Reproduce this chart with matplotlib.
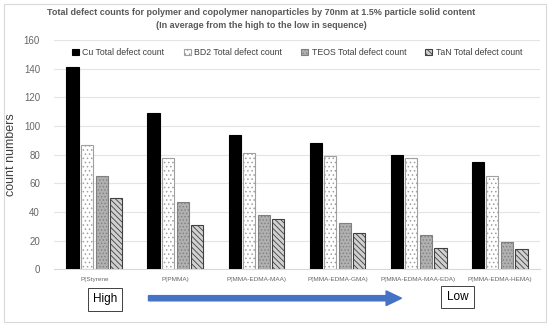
import matplotlib.pyplot as plt
import numpy as np
from matplotlib.patches import FancyArrow

# Data
categories = ['P(Styrene', 'P(PMMA)', 'P(MMA-EDMA-MAA)', 'P(MMA-EDMA-GMA)',
              'P(MMA-EDMA-MAA-EDA)', 'P(MMA-EDMA-HEMA)']
cu = [141, 109, 94, 88, 80, 75]
bd2 = [87, 78, 81, 79, 78, 65]
teos = [65, 47, 38, 32, 24, 19]
tan = [50, 31, 35, 25, 15, 14]
series_names = ['Cu Total defect count', 'BD2 Total defect count',
                'TEOS Total defect count', 'TaN Total defect count']

plt.rcParams['font.family'] = ['Liberation Sans', 'DejaVu Sans']
plt.rcParams['hatch.linewidth'] = 0.6

fig = plt.figure(figsize=(5.5, 3.27), dpi=100)
ax = fig.add_axes([0.098, 0.177, 0.884, 0.7])

x = np.arange(len(categories))
w = 0.15
step = 0.18
styles = [
    dict(color='black', edgecolor='black'),
    dict(color='white', edgecolor='#a0a0a0', hatch='....'),
    dict(color='#b0b0b0', edgecolor='#808080', hatch='.....'),
    dict(color='#d0d0d0', edgecolor='#404040', hatch='\\\\\\\\\\\\'),
]
for i, (vals, name, st) in enumerate(zip([cu, bd2, teos, tan], series_names, styles)):
    ax.bar(x + (i - 1.5) * step, vals, w, label=name, linewidth=0.8, zorder=3, **st)

ax.set_xlim(-0.5, 5.5)
ax.set_ylim(0, 160)
ax.set_yticks(range(0, 161, 20))
ax.grid(axis='y', color='#e4e4e4', linewidth=0.8, zorder=0)
for s in ['top', 'right', 'left']:
    ax.spines[s].set_visible(False)
ax.spines['bottom'].set_color('#d9d9d9')
ax.tick_params(length=0, labelcolor='#666666')
ax.tick_params(axis='y', labelsize=7, pad=10)
ax.tick_params(axis='x', pad=6)
ax.set_xticks(x)
ax.set_xticklabels(categories, fontsize=4.6)
ax.set_ylabel('count numbers', fontsize=9, color='#404040', labelpad=5)

ax.legend(loc='upper center', bbox_to_anchor=(0.5, 1.0), ncol=4, frameon=False,
          fontsize=6.3, labelcolor='#404040', handlelength=0.8, handleheight=0.8,
          columnspacing=2.2, handletextpad=0.4)

fig.text(0.475, 0.963, 'Total defect counts for polymer and copolymer nanoparticles by 70nm at 1.5% particle solid content',
         ha='center', va='center', fontsize=6.5, fontweight='bold', color='#595959')
fig.text(0.475, 0.922, '(In average from the high to the low in sequence)',
         ha='center', va='center', fontsize=6.5, fontweight='bold', color='#595959')

# High / Low boxes and arrow
fig.text(0.191, 0.085, 'High', ha='center', va='center', fontsize=8.5,
         bbox=dict(boxstyle='square,pad=0.45', fc='white', ec='#404040', lw=0.7))
fig.text(0.832, 0.092, 'Low', ha='center', va='center', fontsize=8.5,
         bbox=dict(boxstyle='square,pad=0.45', fc='white', ec='#404040', lw=0.7))
fig.patches.append(FancyArrow(0.27, 0.088, 0.46, 0, width=0.016, head_width=0.045,
                              head_length=0.028, length_includes_head=True,
                              color='#4472c4', transform=fig.transFigure, figure=fig))

# light outer frame
fig.patches.append(plt.Rectangle((0.008, 0.015), 0.984, 0.972, fill=False,
                                 ec='#d9d9d9', lw=0.8, transform=fig.transFigure, figure=fig))

plt.savefig('out.png', dpi=100)
